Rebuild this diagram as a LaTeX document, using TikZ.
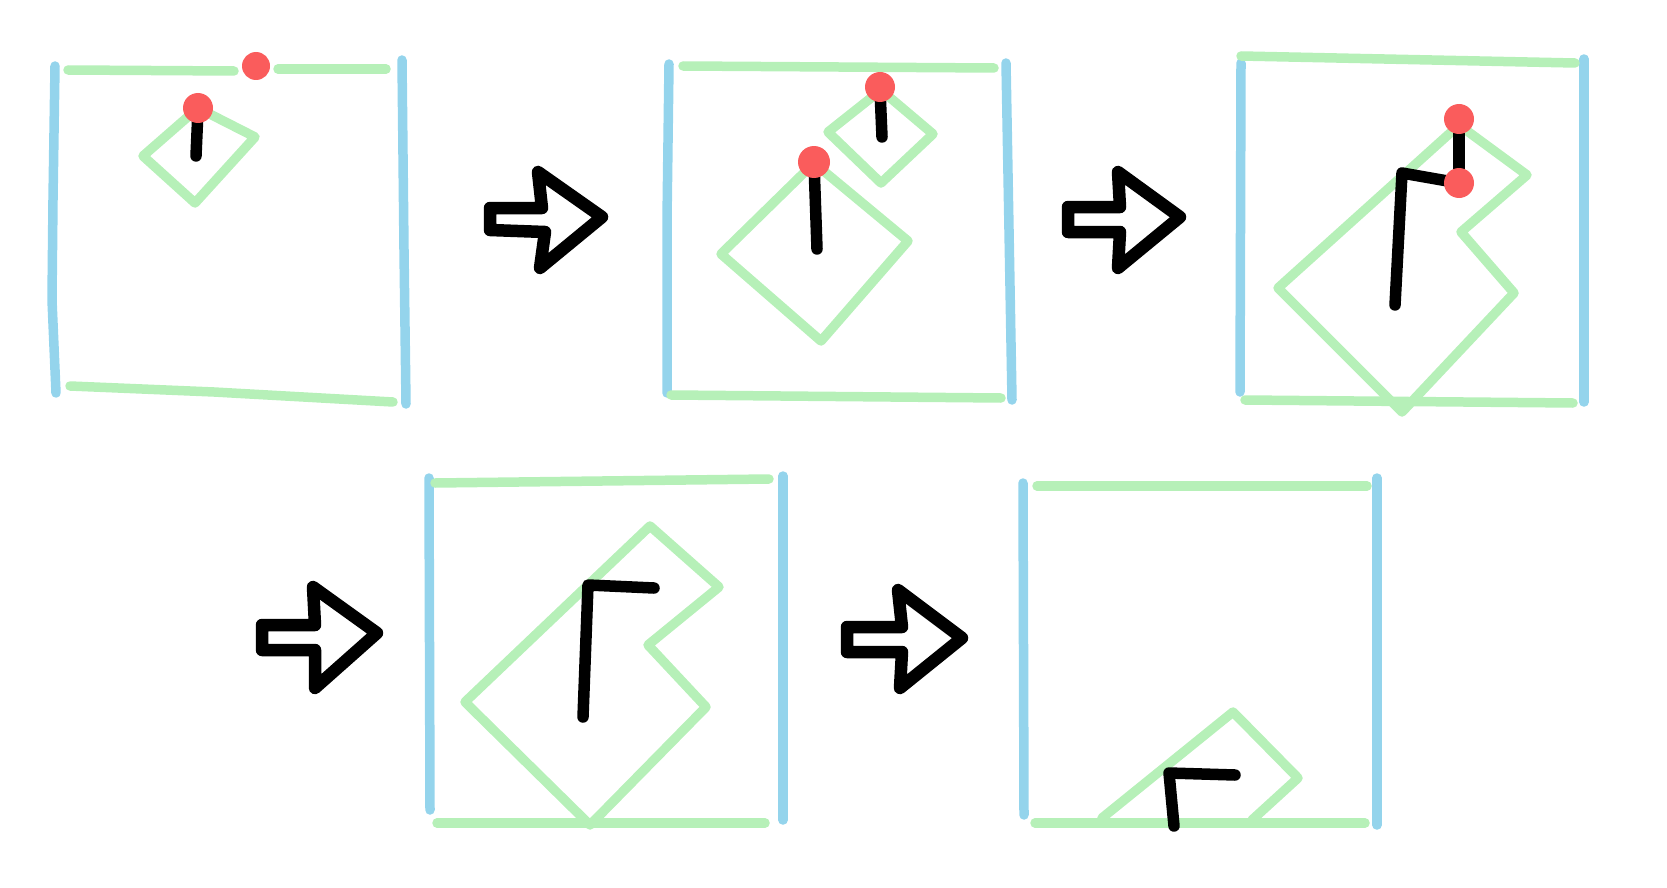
\documentclass[tikz,border=0pt]{standalone}
\definecolor{skyb}{RGB}{148,212,236}
\definecolor{mint}{RGB}{182,240,184}
\definecolor{dotred}{RGB}{250,92,92}
\begin{document}
\begin{tikzpicture}[x=1pt,y=-1pt,
  blueline/.style={draw=skyb,line width=9.5pt,line cap=round,line join=round},
  greenline/.style={draw=mint,line width=9.5pt,line cap=round,line join=round},
  pen/.style={draw=black,line width=11.5pt,line cap=round,line join=round},
  bigarrow/.style={draw=black,line width=12.5pt,line cap=round,line join=round},
  reddot/.style={fill=dotred}]
\useasboundingbox (0,0) rectangle (1667,888);

% ---------- panel 1 ----------
\draw[blueline] (55,66) -- (53,200) -- (52,300) -- (56,393);
\draw[blueline] (402,60) -- (404,250) -- (406,404);
\draw[greenline] (68,70) -- (234,71);
\draw[greenline] (278,69) -- (386,69);
\draw[greenline] (70,386) -- (214,392) -- (393,402);
\draw[greenline] (198,108) -- (255,137) -- (195,203) -- (143,156) -- cycle;
\draw[pen] (198,110) -- (196,156);
\fill[reddot] (198,108) circle (15);
\fill[reddot] (256,66) circle (14);

% ---------- arrow 1 ----------
\draw[bigarrow] (490,208) -- (542,208) -- (538,172) -- (602,217) -- (540,268) -- (545,232) -- (490,230) -- cycle;

% ---------- panel 2 ----------
\draw[blueline] (669,64) -- (667,220) -- (667,393);
\draw[blueline] (1006,63) -- (1009,230) -- (1012,400);
\draw[greenline] (683,66) -- (994,68);
\draw[greenline] (671,395) -- (1001,398);
\draw[greenline] (881,90) -- (933,134) -- (881,183) -- (828,132) -- cycle;
\draw[greenline] (814,163) -- (908,241) -- (821,341) -- (721,254) -- cycle;
\draw[pen] (880,90) -- (882,137);
\draw[pen] (814,163) -- (817,249);
\fill[reddot] (880,87) circle (15);
\fill[reddot] (814,162) circle (16);

% ---------- arrow 2 ----------
\draw[bigarrow] (1068,207) -- (1120,207) -- (1118,172) -- (1180,217) -- (1118,268) -- (1120,232) -- (1068,232) -- cycle;

% ---------- panel 3 ----------
\draw[blueline] (1241,63) -- (1240,392);
\draw[blueline] (1584,59) -- (1584,402);
\draw[greenline] (1241,56) -- (1575,63);
\draw[greenline] (1245,400) -- (1573,403);
\draw[greenline] (1459,125) -- (1527,175) -- (1461,232) -- (1514,293) -- (1402,412) -- (1278,288) -- cycle;
\draw[pen] (1459,119) -- (1459,183);
\draw[pen] (1459,183) -- (1402,173) -- (1395,305);
\fill[reddot] (1459,119) circle (15);
\fill[reddot] (1459,183) circle (15);

% ---------- arrow 3 ----------
\draw[bigarrow] (262,625) -- (315,625) -- (313,587) -- (377,633) -- (315,688) -- (315,650) -- (262,650) -- cycle;

% ---------- panel 4 ----------
\draw[blueline] (429,478) -- (430,810);
\draw[blueline] (783,476) -- (783,820);
\draw[greenline] (435,483) -- (769,479);
\draw[greenline] (437,823) -- (765,823);
\draw[greenline] (650,526) -- (719,587) -- (648,645) -- (706,707) -- (590,825) -- (465,702) -- cycle;
\draw[pen] (654,588) -- (588,585) -- (583,717);

% ---------- arrow 4 ----------
\draw[bigarrow] (847,627) -- (902,627) -- (898,590) -- (962,638) -- (900,688) -- (902,652) -- (847,652) -- cycle;

% ---------- panel 5 ----------
\draw[blueline] (1023,483) -- (1024,815);
\draw[blueline] (1377,478) -- (1377,825);
\draw[greenline] (1037,486) -- (1367,486);
\draw[greenline] (1035,823) -- (1365,823);
\draw[greenline] (1102,818) -- (1233,712) -- (1298,778) -- (1252,820);
\draw[pen] (1235,775) -- (1169,773) -- (1174,826);
\end{tikzpicture}
\end{document}
